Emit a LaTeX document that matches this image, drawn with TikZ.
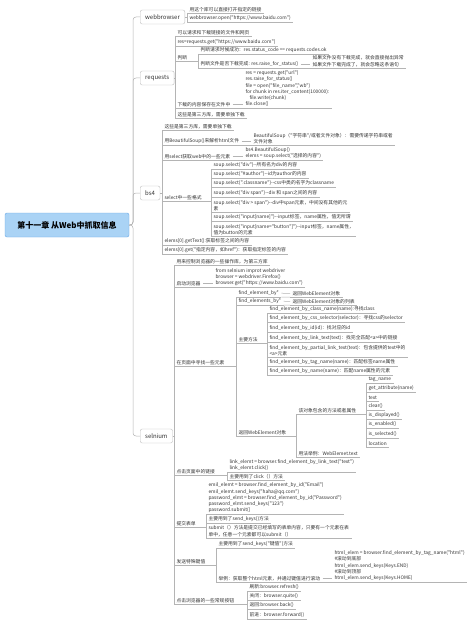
\documentclass[tikz,border=0pt]{standalone}
\usepackage{fontspec}
\setmainfont{Noto Sans CJK SC}[Ligatures=TeXOff]
\usepackage{tikz}
\usetikzlibrary{positioning}
\definecolor{linegray}{RGB}{180,180,180}
\definecolor{boxgray}{RGB}{190,190,190}
\definecolor{txtgray}{RGB}{51,51,51}
\definecolor{rootfill}{RGB}{170,211,245}
\definecolor{rootline}{RGB}{105,168,230}

\begin{document}
\begin{tikzpicture}[
    x=1pt, y=-1pt,
    root/.style={draw=rootline, fill=rootfill, rounded corners=2pt,
        minimum width=124pt, minimum height=24pt,
        font=\bfseries\fontsize{8}{9}\selectfont
    },
    major/.style={draw=boxgray, fill=white, rounded corners=2pt, anchor=west,
        minimum height=14pt, inner xsep=5pt, text=txtgray,
        font=\fontsize{6}{7}\selectfont
    },
    topic/.style={anchor=south west, inner xsep=2.5pt, inner ysep=1.3pt,
        outer sep=0pt, align=left, text=txtgray,
        font=\fontsize{4.8}{6.2}\selectfont,
        append after command={(\tikzlastnode.south west) edge[ln] (\tikzlastnode.south east)}
    },
    ln/.style={draw=linegray, line width=0.5pt}
]
    \fill[white] (0,0) rectangle (474,623);
    \useasboundingbox (0,0) rectangle (474,623);

    \node[root] (root) at (67,225) {第十一章 从Web中抓取信息};
    \coordinate (trunk) at (133,225);

    \node[major] (web) at (140,17) {webbrowser};
    \node[topic] (w1) at (187,13) {用这个库可以直接打开指定的链接};
    \node[topic] (w2) at (187,22) {webbrowser.open("https://www.baidu.com")};

    \node[major] (req) at (140,78) {requests};
    \node[topic] (r1) at (175,36) {可以请求和下载链接的文件和网页};
    \node[topic] (r2) at (175,46) {res=requests.get("https://www.baidu.com")};
    \node[topic] (r3) at (175,61) {判断};
    \node[topic] (r3a) at (198,54) {判断请求时候成功：res.status\_code == requests.codes.ok};
    \node[topic] (r3b) at (198,68) {判断文件是否下载完成: res.raise\_for\_status()};
    \node[topic] (r3c) at (310,68) {如果文件没有下载完成，就会直接抛出异常\\如果文件下载完成了，就会忽略这条语句};
    \node[topic] (r4) at (175,108) {下载的内容保存在文件中};
    \node[topic] (r4a) at (243,108) {res = requests.get("url")\\res.raise\_for\_status()\\file = open("file\_name","wb")\\for chunk in res.iter\_content(100000):\\\hspace{4pt}file.write(chunk)\\file.close()};
    \node[topic] (r5) at (175,118) {这些是第三方库，需要单独下载};

    \node[major] (bs) at (140,193) {bs4};
    \node[topic] (b1) at (162,130) {这些是第三方库，需要单独下载};
    \node[topic] (b2) at (162,145) {用BeautifulSoup()来解析html文件};
    \node[topic] (b2a) at (251,145) {BeautifulSoup（"字符串"/或者文件对象）：需要传递字符串或者\\文件对象};
    \node[topic] (b3) at (162,160) {用select获取web中的一些元素};
    \node[topic] (b3a) at (243,160) {bs4.BeautifulSoup()\\elems = soup.select("选择的内容")};
    \node[topic] (b4) at (162,201) {select中一些格式};
    \node[topic] (b4a) at (211,169) {soup.select("div")--所有名为div的内容};
    \node[topic] (b4b) at (211,178) {soup.select("\#author")--id为author的内容};
    \node[topic] (b4c) at (211,187) {soup.select(".classname")--css中类的名字为classname};
    \node[topic] (b4d) at (211,197) {soup.select("div span")--div 和 span之间的内容};
    \node[topic] (b4e) at (211,212) {soup.select("div > span")--div中span元素，中间没有其他的元\\素};
    \node[topic] (b4f) at (211,221) {soup.select("input[name]")--input标签，name属性，值无所谓};
    \node[topic] (b4g) at (211,236) {soup.select("input[name="button"]")--input标签，name属性，\\值为button的元素};
    \node[topic] (b5) at (162,245) {elems[0].getText():获取标签之间的内容};
    \node[topic] (b6) at (162,254) {elems[0].get("指定内容，如href")：获取指定标签的内容};

    \node[major] (sel) at (140,436) {selnium};
    \node[topic] (s1) at (174,265) {用来控制浏览器的一些操作库，为第三方库};
    \node[topic] (s2) at (174,287) {启动浏览器};
    \node[topic] (s2a) at (213,287) {from selnium improt webdriver\\browser = webdriver.Firefox()\\browser.get("https://www.baidu.com")};
    \node[topic] (s3) at (174,366) {在页面中寻找一些元素};
    \node[topic] (s3a) at (236,297) {find\_element\_by*};
    \node[topic] (s3a1) at (290,297) {返回WebElement对象};
    \node[topic] (s3b) at (236,305) {find\_elements\_by*};
    \node[topic] (s3b1) at (290,305) {返回WebElement对象的列表};
    \node[topic] (s3c) at (236,343) {主要方法};
    \node[topic] (m1) at (267,313) {find\_element\_by\_class\_name(name):寻找class};
    \node[topic] (m2) at (267,322) {find\_element\_by\_css\_selector(selector)：寻找css的selector};
    \node[topic] (m3) at (267,332) {find\_element\_by\_id(id)：找对应的id};
    \node[topic] (m4) at (267,342) {find\_element\_by\_link\_text(text)：找完全匹配<a>中的链接};
    \node[topic] (m5) at (267,357) {find\_element\_by\_partial\_link\_text(text)：包含提供的text中的\\<a>元素};
    \node[topic] (m6) at (267,366) {find\_element\_by\_tag\_name(name)：匹配标签name属性};
    \node[topic] (m7) at (267,375) {find\_element\_by\_name(name)：匹配name属性的元素};
    \node[topic] (s3d) at (236,436) {返回WebElement对象};
    \node[topic] (e1) at (296,414) {该对象包含的方法或者属性};
    \node[topic] (a1) at (366,383) {tag\_name};
    \node[topic] (a2) at (366,392) {get\_attribute(name)};
    \node[topic] (a3) at (366,401) {text};
    \node[topic] (a4) at (366,410) {clear()};
    \node[topic] (a5) at (366,419) {is\_displayed()};
    \node[topic] (a6) at (366,428) {is\_enabled()};
    \node[topic] (a7) at (366,438) {is\_selected()};
    \node[topic] (a8) at (366,447) {location};
    \node[topic] (e2) at (296,457) {用法举例：WebElemet.text};
    \node[topic] (s4) at (174,475) {点击页面中的链接};
    \node[topic] (k1) at (227,472) {link\_elemt = browser.find\_element\_by\_link\_text("text")\\link\_elemt.click()};
    \node[topic] (k2) at (227,480) {主要用到了click（）方法};
    \node[topic] (s5) at (174,527) {提交表单};
    \node[topic] (f1) at (206,514) {emil\_elemt = browser.find\_element\_by\_id("Email")\\emil\_elemt.send\_keys("haha@qq.com")\\password\_elmt = browser.find\_element\_by\_id("Password")\\password\_elmt.send\_keys("123")\\password.submit()};
    \node[topic] (f2) at (206,523) {主要用到了send\_keys()方法};
    \node[topic] (f3) at (206,538) {submit（）方法是提交已经填写的表单内容，只要有一个元素在表\\单中，任意一个元素都可以submit（）};
    \node[topic] (s6) at (174,565) {发送特殊键值};
    \node[topic] (g1) at (216,548) {主要用到了send\_keys("键值")方法};
    \node[topic] (g2) at (216,582) {举例：获取整个html元素，并通过键值进行滚动};
    \node[topic] (g2a) at (332,582) {html\_elem = browser.find\_element\_by\_tag\_name("html")\\\#滚动到底部\\html\_elem.send\_keys(Keys.END)\\\#滚动到顶部\\html\_elem.send\_keys(Keys.HOME)};
    \node[topic] (s7) at (174,604) {点击浏览器的一些常规按钮};
    \node[topic] (t1) at (247,591) {刷新:browser.refresh()};
    \node[topic] (t2) at (247,600) {关闭：browser.quite()};
    \node[topic] (t3) at (247,609) {返回:browser.back()};
    \node[topic] (t4) at (247,619) {前进：browser.forward()};

    \foreach \m in {web,req,bs,sel}
        \draw[ln, rounded corners=3pt] (root.east) -- (trunk) |- (\m.west);

    \draw[ln] (web.east) -- (web.east -| w1.south west) (w1.south west) -- (w2.south west);

    \draw[ln] (req.east) -- (req.east -| r1.south west) (r1.south west) -- (r5.south west);
    \draw[ln] (r3.south east) -- (r3.south east -| r3a.south west) (r3a.south west) -- (r3b.south west);
    \draw[ln] (r3b.south east) -- (r3c.south west) (r3b.east) -- (r3b.east -| r3c.west);
    \draw[ln] (r4.south east) -- (r4a.south west) (r4.east) -- (r4.east -| r4a.west);

    \draw[ln] (bs.east) -- (bs.east -| b1.south west) (b1.south west) -- (b6.south west);
    \draw[ln] (b2.south east) -- (b2a.south west) (b2.east) -- (b2.east -| b2a.west);
    \draw[ln] (b3.south east) -- (b3a.south west) (b3.east) -- (b3.east -| b3a.west);
    \draw[ln] (b4.south east) -- (b4.south east -| b4a.south west) (b4a.south west) -- (b4g.south west);

    \draw[ln] (sel.east) -- (sel.east -| s1.south west) (s1.south west) -- (s7.south west);
    \draw[ln] (s2.south east) -- (s2a.south west) (s2.east) -- (s2.east -| s2a.west);
    \draw[ln] (s3.south east) -- (s3.south east -| s3a.south west) (s3a.south west) -- (s3d.south west);
    \draw[ln] (s3a.south east) -- (s3a1.south west) (s3a.east) -- (s3a1.west);
    \draw[ln] (s3b.south east) -- (s3b1.south west) (s3b.east) -- (s3b1.west);
    \draw[ln] (s3c.south east) -- (s3c.south east -| m1.south west) (m1.south west) -- (m7.south west);
    \draw[ln] (s3d.south east) -- (s3d.south east -| e1.south west) (e1.south west) -- (e2.south west);
    \draw[ln] (e1.south east) -- (e1.south east -| a1.south west) (a1.south west) -- (a8.south west);
    \draw[ln] (s4.south east) -- (s4.south east -| k1.south west) (k1.south west) -- (k2.south west);
    \draw[ln] (s5.south east) -- (s5.south east -| f1.south west) (f1.south west) -- (f3.south west);
    \draw[ln] (s6.south east) -- (s6.south east -| g1.south west) (g1.south west) -- (g2.south west);
    \draw[ln] (g2.south east) -- (g2a.south west) (g2.east) -- (g2.east -| g2a.west);
    \draw[ln] (s7.south east) -- (s7.south east -| t1.south west) (t1.south west) -- (t4.south west);
\end{tikzpicture}
\end{document}
